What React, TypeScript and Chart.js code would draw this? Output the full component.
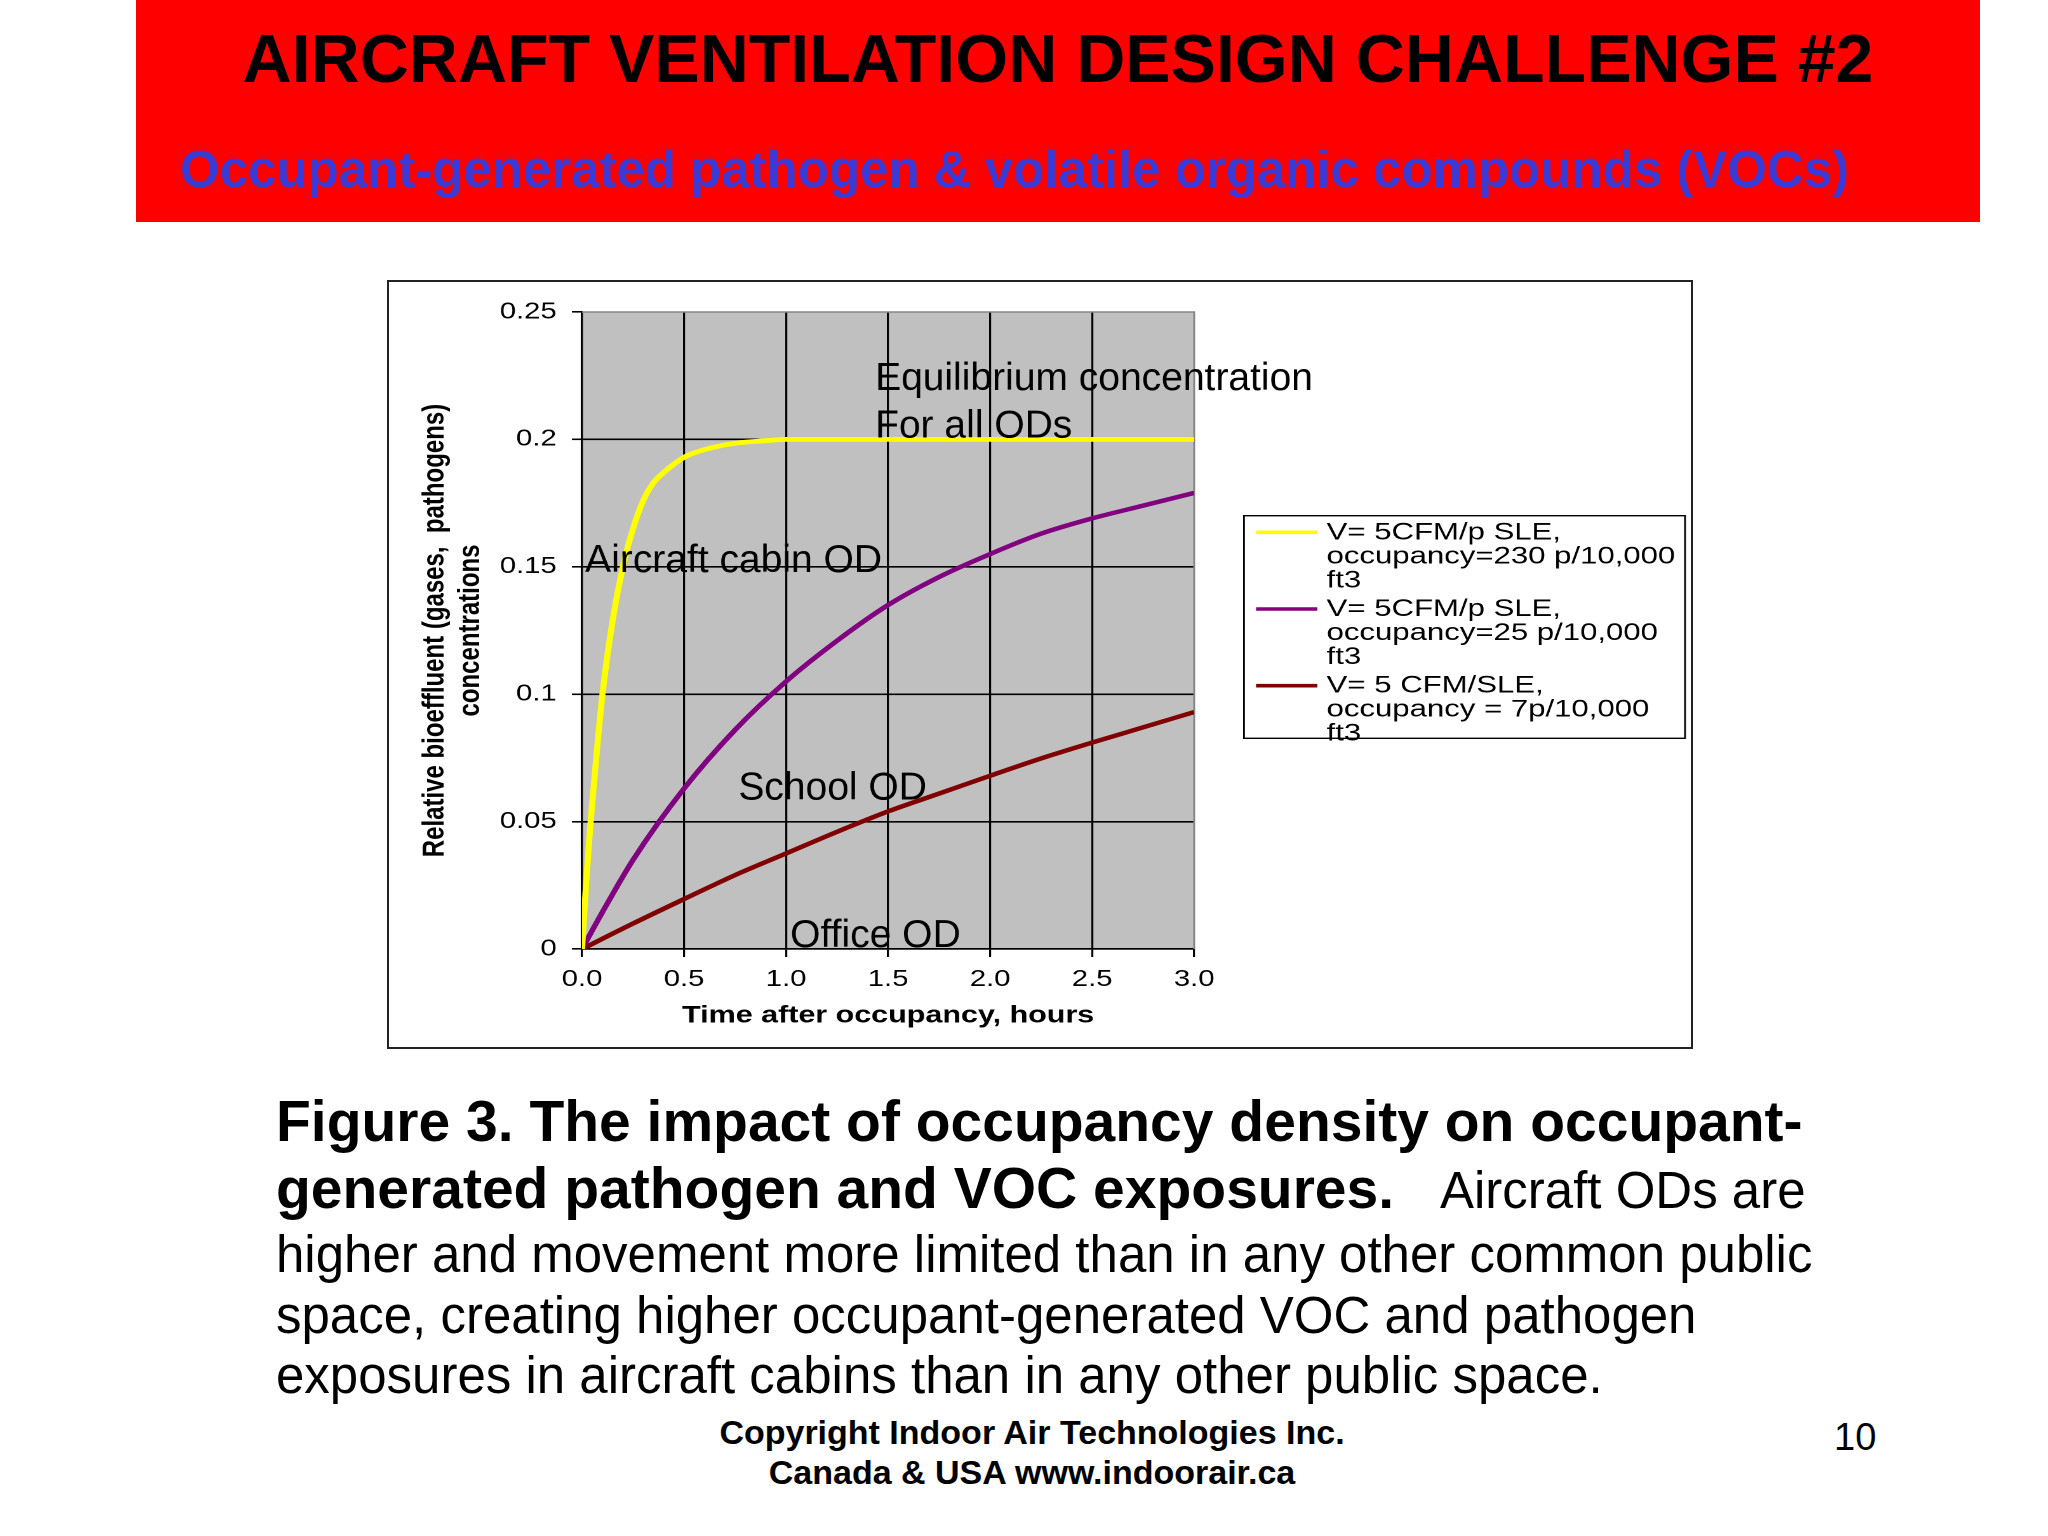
import React, { useEffect, useRef } from "react";
import { Chart, registerables } from "chart.js";

Chart.register(...registerables);

// ---------- data ----------
const X_TICKS = [0, 0.5, 1.0, 1.5, 2.0, 2.5, 3.0];
const Y_TICKS = [0, 0.05, 0.1, 0.15, 0.2, 0.25];
const Y_TICK_LABELS = ["0", "0.05", "0.1", "0.15", "0.2", "0.25"];

// Aircraft cabin OD (yellow)
const CABIN_TIME = [0, 0.02, 0.04, 0.065, 0.1, 0.15, 0.2, 0.25, 0.3, 0.35, 0.4, 0.5, 0.6, 0.75, 0.9, 1.0, 1.5, 2.0, 2.5, 3.0];
const CABIN_CONC = [0, 0.026, 0.048, 0.071, 0.1, 0.129, 0.15, 0.165, 0.176, 0.183, 0.187, 0.193, 0.196, 0.1985, 0.1995, 0.2, 0.2, 0.2, 0.2, 0.2];

// School OD (purple)
const SCHOOL_TIME = [0, 0.1, 0.25, 0.5, 0.75, 1.0, 1.25, 1.5, 1.75, 2.0, 2.25, 2.5, 2.75, 3.0];
const SCHOOL_CONC = [0, 0.0145, 0.035, 0.063, 0.086, 0.105, 0.121, 0.135, 0.146, 0.155, 0.163, 0.169, 0.174, 0.179];

// Office OD (dark red)
const OFFICE_TIME = [0, 0.25, 0.5, 0.75, 1.0, 1.25, 1.5, 1.75, 2.0, 2.25, 2.5, 2.75, 3.0];
const OFFICE_CONC = [0, 0.01, 0.0196, 0.029, 0.0375, 0.046, 0.054, 0.061, 0.068, 0.0748, 0.081, 0.087, 0.093];

const SERIES_LABELS = [
  ["V= 5CFM/p SLE,", "occupancy=230 p/10,000", "ft3"],
  ["V= 5CFM/p SLE,", "occupancy=25 p/10,000", "ft3"],
  ["V= 5 CFM/SLE,", "occupancy = 7p/10,000", "ft3"],
];
const SERIES_COLORS = ["#FFFF00", "#800080", "#800000"];

const NOTE_TEXTS = ["Equilibrium concentration", "For all ODs", "Aircraft cabin OD", "School OD", "Office OD"];
const NOTE_X = [1.436, 1.436, 0.015, 0.766, 1.02];
const NOTE_Y = [0.2194, 0.2008, 0.148, 0.0587, 0.0007];

const X_TITLE = "Time after occupancy, hours";
const Y_TITLE = ["Relative bioeffluent (gases,  pathogens)", "concentrations"];

// ---------- layout constants ----------
const STRETCH = 1.27;
const FONT = '"Liberation Sans", Arial, Helvetica, sans-serif';

const plotBg = {
  id: "plotBg",
  beforeDraw(chart: any) {
    const { ctx, chartArea: a } = chart;
    ctx.save();
    ctx.fillStyle = "#C0C0C0";
    ctx.fillRect(a.left, a.top, a.right - a.left, a.bottom - a.top);
    ctx.restore();
  },
};

const plotFrame = {
  id: "plotFrame",
  beforeDatasetsDraw(chart: any) {
    const { ctx, chartArea: a } = chart;
    ctx.save();
    ctx.strokeStyle = "#858585";
    ctx.lineWidth = 1.5;
    ctx.beginPath();
    ctx.moveTo(a.left, a.top);
    ctx.lineTo(a.right, a.top);
    ctx.lineTo(a.right, a.bottom);
    ctx.stroke();
    ctx.restore();
  },
};

const notes = {
  id: "notes",
  afterDatasetsDraw(chart: any) {
    const { ctx, scales } = chart;
    ctx.save();
    ctx.font = `39px ${FONT}`;
    ctx.fillStyle = "#000";
    ctx.textAlign = "left";
    ctx.textBaseline = "alphabetic";
    NOTE_TEXTS.forEach((t, i) => {
      const px = scales.x.getPixelForValue(NOTE_X[i]);
      const py = scales.y.getPixelForValue(NOTE_Y[i]);
      ctx.save();
      ctx.translate(px, py);
      ctx.scale(1 / STRETCH, 1);
      ctx.fillText(t, 0, 0);
      ctx.restore();
    });
    ctx.restore();
  },
};

const legendBox = {
  id: "legendBox",
  afterDraw(chart: any) {
    const { ctx } = chart;
    const bx = 673.2, by = 233.7, bw = 347.3, bh = 222.6;
    ctx.save();
    ctx.strokeStyle = "#000";
    ctx.lineWidth = 1.4;
    ctx.strokeRect(bx, by, bw, bh);
    ctx.font = `24.5px ${FONT}`;
    ctx.textAlign = "left";
    ctx.textBaseline = "alphabetic";
    chart.data.datasets.forEach((ds: any, i: number) => {
      const base = by + 23.6 + i * 76.7;
      ctx.strokeStyle = ds.borderColor;
      ctx.lineWidth = 3.6;
      ctx.beginPath();
      ctx.moveTo(bx + 9.5, base - 7);
      ctx.lineTo(bx + 57.8, base - 7);
      ctx.stroke();
      ctx.fillStyle = "#000";
      (ds.legendLines as string[]).forEach((line, j) => {
        ctx.fillText(line, bx + 65.1, base + j * 24);
      });
    });
    ctx.restore();
  },
};

const toPoints = (xs: number[], ys: number[]) => xs.map((x, i) => ({ x, y: ys[i] }));

function Txt(props: { left: number; baseline: number; size: number; bold?: boolean; color?: string; width?: number; center?: boolean; children: any }) {
  const { left, baseline, size, bold, color, width, center, children } = props;
  return (
    <div
      style={{
        position: "absolute",
        left,
        top: baseline - 0.8465 * size,
        width: width,
        textAlign: center ? "center" : "left",
        fontSize: size,
        lineHeight: `${size}px`,
        fontWeight: bold ? 700 : 400,
        color: color || "#000",
        whiteSpace: "pre",
      }}
    >
      {children}
    </div>
  );
}

export default function App() {
  const ref = useRef<HTMLCanvasElement>(null);

  useEffect(() => {
    Chart.defaults.font.family = FONT;
    Chart.defaults.color = "#000";
    const isLast = (v: number, last: number) => Math.abs(v - last) < 1e-9;
    const chart = new Chart(ref.current as HTMLCanvasElement, {
      type: "line",
      data: {
        datasets: [
          { label: SERIES_LABELS[0].join(" "), legendLines: SERIES_LABELS[0], data: toPoints(CABIN_TIME, CABIN_CONC), borderColor: SERIES_COLORS[0], borderWidth: 4.8, pointRadius: 0, fill: false } as any,
          { label: SERIES_LABELS[1].join(" "), legendLines: SERIES_LABELS[1], data: toPoints(SCHOOL_TIME, SCHOOL_CONC), borderColor: SERIES_COLORS[1], borderWidth: 4.4, pointRadius: 0, fill: false } as any,
          { label: SERIES_LABELS[2].join(" "), legendLines: SERIES_LABELS[2], data: toPoints(OFFICE_TIME, OFFICE_CONC), borderColor: SERIES_COLORS[2], borderWidth: 4.4, pointRadius: 0, fill: false } as any,
        ],
      },
      options: {
        animation: false,
        responsive: true,
        maintainAspectRatio: false,
        devicePixelRatio: 2,
        layout: { padding: { left: 10, top: 30, right: 391, bottom: 12.5 } },
        elements: { line: { cubicInterpolationMode: "monotone" }, point: { radius: 0 } },
        plugins: { legend: { display: false }, tooltip: { enabled: false } },
        scales: {
          x: {
            type: "linear",
            min: X_TICKS[0],
            max: X_TICKS[X_TICKS.length - 1],
            afterBuildTicks: (s: any) => { s.ticks = X_TICKS.map((v) => ({ value: v })); },
            afterFit: (s: any) => { s.height = 85.5; },
            grid: {
              color: (c: any) => (c.tick && isLast(c.tick.value, X_TICKS[X_TICKS.length - 1]) ? "rgba(0,0,0,0)" : "#000"),
              lineWidth: 1.6,
              tickLength: 8,
              tickColor: "#000",
              tickWidth: 1.6,
            },
            border: { color: "#000", width: 1.6 },
            ticks: {
              font: { size: 23 },
              color: "#000",
              padding: 9,
              maxRotation: 0,
              autoSkip: false,
              callback: (v: any) => Number(v).toFixed(1),
            },
            title: { display: true, text: X_TITLE, color: "#000", font: { size: 24, weight: "bold" }, padding: { top: 0, bottom: 4 } },
          },
          y: {
            type: "linear",
            min: Y_TICKS[0],
            max: Y_TICKS[Y_TICKS.length - 1],
            afterBuildTicks: (s: any) => { s.ticks = Y_TICKS.map((v) => ({ value: v })); },
            afterFit: (s: any) => { s.width = 142; },
            grid: {
              color: (c: any) => (c.tick && isLast(c.tick.value, Y_TICKS[Y_TICKS.length - 1]) ? "rgba(0,0,0,0)" : "#000"),
              lineWidth: 1.6,
              tickLength: 8,
              tickColor: "#000",
              tickWidth: 1.6,
            },
            border: { color: "#000", width: 1.6 },
            ticks: {
              font: { size: 23 },
              color: "#000",
              padding: 12,
              autoSkip: false,
              callback: (v: any) => {
                const i = Y_TICKS.findIndex((t) => Math.abs(t - Number(v)) < 1e-9);
                return i >= 0 ? Y_TICK_LABELS[i] : "";
              },
            },
            title: { display: true, text: Y_TITLE, color: "#000", font: { size: 24, weight: "bold", lineHeight: 1.183 }, padding: { top: 12, bottom: 0 } },
          },
        },
      } as any,
      plugins: [plotBg, plotFrame, notes, legendBox],
    });
    return () => chart.destroy();
  }, []);

  return (
    <div
      style={{
        position: "absolute",
        left: 0,
        top: 0,
        width: 2048,
        height: 1536,
        background: "#fff",
        overflow: "hidden",
        fontFamily: FONT,
      }}
    >
      {/* red header */}
      <div style={{ position: "absolute", left: 136, top: 0, width: 1844, height: 222, background: "#FF0000" }} />
      <Txt left={136} width={1844} center baseline={81.7} size={68} bold>
        AIRCRAFT VENTILATION DESIGN CHALLENGE #2
      </Txt>
      <Txt left={180} baseline={186.7} size={51} bold color="#3A3AD6">
        Occupant-generated pathogen &amp; volatile organic compounds (VOCs)
      </Txt>

      {/* chart */}
      <div
        style={{
          position: "absolute",
          left: 389,
          top: 282,
          width: 1025,
          height: 765,
          transform: `scaleX(${STRETCH})`,
          transformOrigin: "0 0",
        }}
      >
        <canvas ref={ref} />
      </div>
      <div
        style={{
          position: "absolute",
          left: 387,
          top: 280,
          width: 1306,
          height: 769,
          border: "2px solid #222",
          boxSizing: "border-box",
          pointerEvents: "none",
        }}
      />

      {/* caption */}
      <Txt left={276} baseline={1141.7} size={57} bold>
        Figure 3. The impact of occupancy density on occupant-
      </Txt>
      <Txt left={276} baseline={1208.3} size={57} bold>
        generated pathogen and VOC exposures.
      </Txt>
      <Txt left={1440} baseline={1208.3} size={51}>
        Aircraft ODs are
      </Txt>
      <Txt left={276} baseline={1271.7} size={51}>
        higher and movement more limited than in any other common public
      </Txt>
      <Txt left={276} baseline={1333.3} size={51}>
        space, creating higher occupant-generated VOC and pathogen
      </Txt>
      <Txt left={276} baseline={1393.3} size={51}>
        exposures in aircraft cabins than in any other public space.
      </Txt>

      {/* footer */}
      <Txt left={632} width={800} center baseline={1443.3} size={34} bold>
        Copyright Indoor Air Technologies Inc.
      </Txt>
      <Txt left={632} width={800} center baseline={1483.3} size={34} bold>
        Canada &amp; USA www.indoorair.ca
      </Txt>
      <Txt left={1834} baseline={1450} size={38}>
        10
      </Txt>
    </div>
  );
}
